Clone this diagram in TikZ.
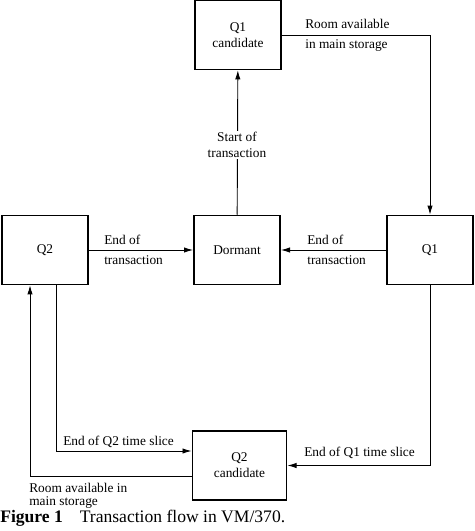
\documentclass[tikz,border=0pt]{standalone}
\usepackage{fontspec}
\setmainfont{Liberation Serif}
\usetikzlibrary{arrows.meta}

\begin{document}
\begin{tikzpicture}[x=0.025cm, y=-0.025cm,
  >={Latex[length=6.5pt,width=3.8pt]},
  mybox/.style={rectangle, draw, line width=1.2pt, minimum width=2.15cm, minimum height=1.72cm, align=center, font=\fontsize{9.5}{11.5}\selectfont},
  mylbl/.style={inner sep=0pt, align=left, anchor=west, font=\fontsize{9.5}{11}\selectfont},
  myln/.style={line width=0.65pt}]
  \useasboundingbox (0,0) rectangle (474,531);

  \node[mybox] (q1c) at (238,35) {Q1\\candidate};
  \node[mybox] (dorm) at (237,250) {Dormant};
  \node[mybox] (q2) at (45,250) {Q2};
  \node[mybox] (q1) at (430,250) {Q1};
  \node[mybox, minimum width=2.35cm] (q2c) at (239.5,465.5) {Q2\\candidate};

  \coordinate (t2) at (56,451);
  \coordinate (r2) at (30,476);

  \draw[myln, ->] (q1c.east) -| (q1.north);
  \draw[myln, ->] (dorm) -- (q1c);
  \draw[myln, ->] (q2) -- (dorm);
  \draw[myln, ->] (q1) -- (dorm);
  \draw[myln, ->] (q1.south) |- (q2c.east);
  \draw[myln, ->] (t2 |- q2.south) -- (t2) -- (t2 -| q2c.west);
  \draw[myln, ->] (r2 -| q2c.west) -- (r2) -- (r2 |- q2.south);

  \node[mylbl] (l1) at (305,35) {Room available\\[3pt]in main storage};
  \node[mylbl, anchor=center, fill=white, align=center, inner sep=1pt] (l2) at (237,145) {Start of\\transaction};
  \node[mylbl] (l3) at (104,250) {End of\\[3pt]transaction};
  \node[mylbl] (l4) at (307,250) {End of\\[3pt]transaction};
  \node[mylbl] (l5) at (63,442) {End of Q2 time slice};
  \node[mylbl] (l6) at (304,453) {End of Q1 time slice};
  \node[mylbl, font=\fontsize{9.5}{9.5}\selectfont] (l7) at (29,496) {Room available in\\main storage};

  \node[mylbl, font=\fontsize{12.5}{14}\selectfont] (cap) at (0,518) {\textbf{Figure 1}\hspace{12pt}Transaction flow in VM/370.};
\end{tikzpicture}
\end{document}
